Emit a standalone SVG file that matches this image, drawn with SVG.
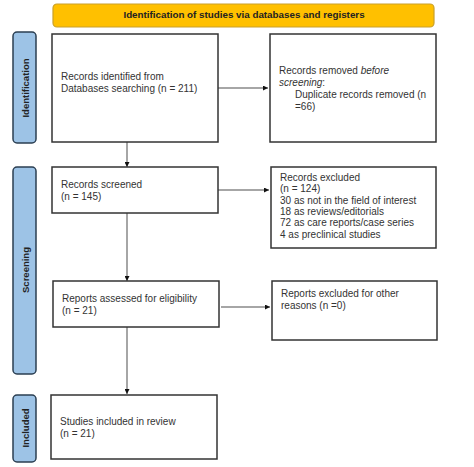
<svg xmlns="http://www.w3.org/2000/svg" width="474" height="467" viewBox="0 0 474 467">
<defs>
<marker id="ah" viewBox="0 0 10 10" refX="10" refY="5" markerWidth="5" markerHeight="5" orient="auto" markerUnits="userSpaceOnUse">
<path d="M0,0 L10,5 L0,10 z" fill="#111"/>
</marker>
<style>
.box{fill:#fff;stroke:#333;stroke-width:1.5}
.side{fill:#9DC3E6;stroke:#2B3F52;stroke-width:1.5}
.hdr{fill:#FFC000;stroke:#C9A02A;stroke-width:1.2}
.t{font-family:"Liberation Sans",Arial,sans-serif;font-size:10px;fill:#333}
.b{font-family:"Liberation Sans",Arial,sans-serif;font-weight:bold;fill:#222}
.c{stroke:#888;stroke-width:1.5;fill:none;marker-end:url(#ah)}
</style>
</defs>
<rect width="474" height="467" fill="#fff"/>
<g id="header">
<rect class="hdr" x="53" y="4" width="381" height="23" rx="4"/>
<text class="b" x="244" y="17.5" font-size="9.8" text-anchor="middle">Identification of studies via databases and registers</text>
</g>
<g id="side-identification">
<rect class="side" x="13" y="32" width="23" height="111" rx="4"/>
<text class="b" font-size="9.5" text-anchor="middle" transform="translate(28.5,88) rotate(-90)">Identification</text>
</g>
<g id="side-screening">
<rect class="side" x="13" y="167" width="23" height="207" rx="4"/>
<text class="b" font-size="9.5" text-anchor="middle" transform="translate(28.5,270) rotate(-90)">Screening</text>
</g>
<g id="side-included">
<rect class="side" x="13" y="395" width="23" height="67" rx="4"/>
<text class="b" font-size="9.5" text-anchor="middle" transform="translate(28.5,428) rotate(-90)">Included</text>
</g>
<g id="connectors">
<line class="c" x1="218" y1="88" x2="268" y2="88"/>
<line class="c" x1="127" y1="142" x2="127" y2="167"/>
<line class="c" x1="218" y1="190" x2="269" y2="190"/>
<line class="c" x1="127" y1="213" x2="127" y2="281"/>
<line class="c" x1="221" y1="307" x2="270" y2="307"/>
<line class="c" x1="127" y1="327" x2="127" y2="394"/>
</g>
<g id="records-identified">
<rect class="box" x="52" y="34" width="166" height="108"/>
<text class="t" x="61" y="80">Records identified from</text>
<text class="t" x="61" y="92">Databases searching (n = 211)</text>
</g>
<g id="records-removed">
<rect class="box" x="270" y="34" width="166" height="108"/>
<text class="t" x="279" y="74">Records removed <tspan font-style="italic">before</tspan></text>
<text class="t" x="279" y="86"><tspan font-style="italic">screening</tspan>:</text>
<text class="t" x="295" y="98">Duplicate records removed (n</text>
<text class="t" x="295" y="110">=66)</text>
</g>
<g id="records-screened">
<rect class="box" x="52" y="167" width="166" height="46"/>
<text class="t" x="61" y="188">Records screened</text>
<text class="t" x="61" y="200">(n = 145)</text>
</g>
<g id="records-excluded">
<rect class="box" x="271" y="167" width="165" height="81"/>
<text class="t" x="280" y="181">Records excluded</text>
<text class="t" x="280" y="192.3">(n = 124)</text>
<text class="t" x="280" y="203.6">30 as not in the field of interest</text>
<text class="t" x="280" y="214.9">18 as reviews/editorials</text>
<text class="t" x="280" y="226.2">72 as care reports/case series</text>
<text class="t" x="280" y="237.5">4 as preclinical studies</text>
</g>
<g id="reports-assessed">
<rect class="box" x="53" y="281" width="166" height="46"/>
<text class="t" x="62" y="302">Reports assessed for eligibility</text>
<text class="t" x="62" y="314">(n = 21)</text>
</g>
<g id="reports-excluded">
<rect class="box" x="272" y="281" width="165" height="59"/>
<text class="t" x="281" y="297">Reports excluded for other</text>
<text class="t" x="281" y="309">reasons (n =0)</text>
</g>
<g id="studies-included">
<rect class="box" x="51" y="395" width="166" height="64"/>
<text class="t" x="60" y="425">Studies included in review</text>
<text class="t" x="60" y="437">(n = 21)</text>
</g>
</svg>
